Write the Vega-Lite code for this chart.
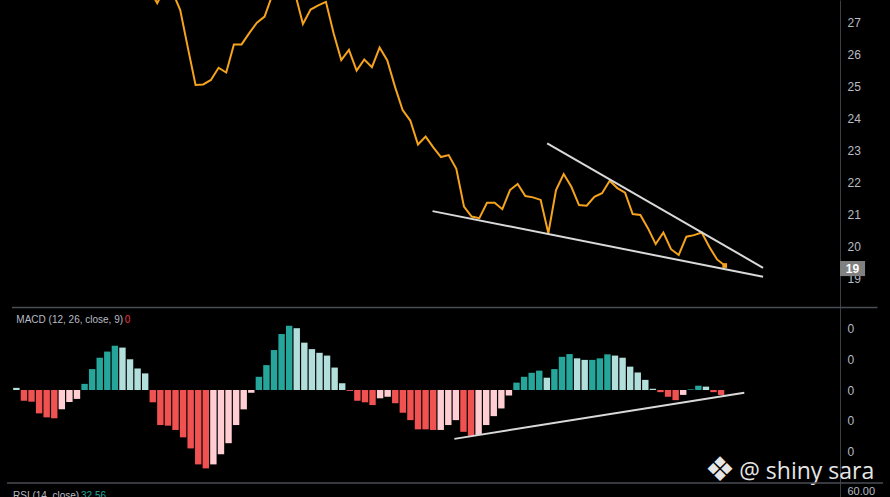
{
  "$schema": "https://vega.github.io/schema/vega-lite/v6.json",
  "background": "#000000",
  "padding": 0,
  "spacing": 0,
  "bounds": "flush",
  "config": {
    "view": {"stroke": null},
    "axis": {"labelFont": "Liberation Sans", "labelFontSize": 12, "labelColor": "#b8bcc4", "domainColor": "#3c3f47", "domainWidth": 1, "ticks": false, "grid": false, "labelPadding": 7, "title": null, "labelOverlap": false}
  },
  "datasets": {
    "price": [
      {"i": 18, "p": 28.0}, {"i": 19, "p": 27.59}, {"i": 20, "p": 28.06}, {"i": 21, "p": 27.94},
      {"i": 22, "p": 27.375}, {"i": 23, "p": 26.19}, {"i": 24, "p": 25.03}, {"i": 25, "p": 25.05},
      {"i": 26, "p": 25.19}, {"i": 27, "p": 25.57}, {"i": 28, "p": 25.42}, {"i": 29, "p": 26.3},
      {"i": 30, "p": 26.3}, {"i": 31, "p": 26.65}, {"i": 32, "p": 26.98}, {"i": 33, "p": 27.17},
      {"i": 34, "p": 27.84}, {"i": 35, "p": 28.31}, {"i": 36, "p": 28.16}, {"i": 37, "p": 27.87},
      {"i": 38, "p": 26.94}, {"i": 39, "p": 27.39}, {"i": 40, "p": 27.52}, {"i": 41, "p": 27.63},
      {"i": 42, "p": 26.65}, {"i": 43, "p": 25.81}, {"i": 44, "p": 26.13}, {"i": 45, "p": 25.48},
      {"i": 46, "p": 25.83}, {"i": 47, "p": 25.59}, {"i": 48, "p": 26.2}, {"i": 49, "p": 25.8},
      {"i": 50, "p": 24.98}, {"i": 51, "p": 24.25}, {"i": 52, "p": 23.92}, {"i": 53, "p": 23.17},
      {"i": 54, "p": 23.42}, {"i": 55, "p": 23.08}, {"i": 56, "p": 22.78}, {"i": 57, "p": 22.84},
      {"i": 58, "p": 22.41}, {"i": 59, "p": 21.23}, {"i": 60, "p": 20.92}, {"i": 61, "p": 20.87},
      {"i": 62, "p": 21.35}, {"i": 63, "p": 21.35}, {"i": 64, "p": 21.15}, {"i": 65, "p": 21.75},
      {"i": 66, "p": 21.94}, {"i": 67, "p": 21.56}, {"i": 68, "p": 21.52}, {"i": 69, "p": 21.44},
      {"i": 70, "p": 20.4}, {"i": 71, "p": 21.75}, {"i": 72, "p": 22.25}, {"i": 73, "p": 21.85},
      {"i": 74, "p": 21.28}, {"i": 75, "p": 21.26}, {"i": 76, "p": 21.54}, {"i": 77, "p": 21.65},
      {"i": 78, "p": 22.04}, {"i": 79, "p": 21.81}, {"i": 80, "p": 21.67}, {"i": 81, "p": 21.0},
      {"i": 82, "p": 20.97}, {"i": 83, "p": 20.55}, {"i": 84, "p": 20.06}, {"i": 85, "p": 20.42},
      {"i": 86, "p": 19.9}, {"i": 87, "p": 19.72}, {"i": 88, "p": 20.29}, {"i": 89, "p": 20.34},
      {"i": 90, "p": 20.42}, {"i": 91, "p": 19.97}, {"i": 92, "p": 19.58}, {"i": 93, "p": 19.39}
    ],
    "trend": [
      {"i1": 54.9, "p1": 21.09, "i2": 98.0, "p2": 19.04},
      {"i1": 69.85, "p1": 23.21, "i2": 98.0, "p2": 19.32}
    ],
    "macd": [
      {"i": 0, "v": 0.007, "phase": "above_weakening"},
      {"i": 1, "v": -0.035, "phase": "below_strengthening"},
      {"i": 2, "v": -0.038, "phase": "below_strengthening"},
      {"i": 3, "v": -0.076, "phase": "below_strengthening"},
      {"i": 4, "v": -0.089, "phase": "below_strengthening"},
      {"i": 5, "v": -0.092, "phase": "below_strengthening"},
      {"i": 6, "v": -0.063, "phase": "below_weakening"},
      {"i": 7, "v": -0.039, "phase": "below_weakening"},
      {"i": 8, "v": -0.029, "phase": "below_weakening"},
      {"i": 9, "v": 0.02, "phase": "above_strengthening"},
      {"i": 10, "v": 0.068, "phase": "above_strengthening"},
      {"i": 11, "v": 0.105, "phase": "above_strengthening"},
      {"i": 12, "v": 0.125, "phase": "above_strengthening"},
      {"i": 13, "v": 0.144, "phase": "above_strengthening"},
      {"i": 14, "v": 0.138, "phase": "above_weakening"},
      {"i": 15, "v": 0.1, "phase": "above_weakening"},
      {"i": 16, "v": 0.07, "phase": "above_weakening"},
      {"i": 17, "v": 0.054, "phase": "above_weakening"},
      {"i": 18, "v": -0.04, "phase": "below_strengthening"},
      {"i": 19, "v": -0.114, "phase": "below_strengthening"},
      {"i": 20, "v": -0.116, "phase": "below_strengthening"},
      {"i": 21, "v": -0.13, "phase": "below_strengthening"},
      {"i": 22, "v": -0.154, "phase": "below_strengthening"},
      {"i": 23, "v": -0.19, "phase": "below_strengthening"},
      {"i": 24, "v": -0.242, "phase": "below_strengthening"},
      {"i": 25, "v": -0.255, "phase": "below_strengthening"},
      {"i": 26, "v": -0.242, "phase": "below_weakening"},
      {"i": 27, "v": -0.209, "phase": "below_weakening"},
      {"i": 28, "v": -0.173, "phase": "below_weakening"},
      {"i": 29, "v": -0.114, "phase": "below_weakening"},
      {"i": 30, "v": -0.063, "phase": "below_weakening"},
      {"i": 31, "v": -0.009, "phase": "below_weakening"},
      {"i": 32, "v": 0.043, "phase": "above_strengthening"},
      {"i": 33, "v": 0.081, "phase": "above_strengthening"},
      {"i": 34, "v": 0.13, "phase": "above_strengthening"},
      {"i": 35, "v": 0.182, "phase": "above_strengthening"},
      {"i": 36, "v": 0.209, "phase": "above_strengthening"},
      {"i": 37, "v": 0.201, "phase": "above_weakening"},
      {"i": 38, "v": 0.154, "phase": "above_weakening"},
      {"i": 39, "v": 0.133, "phase": "above_weakening"},
      {"i": 40, "v": 0.121, "phase": "above_weakening"},
      {"i": 41, "v": 0.112, "phase": "above_weakening"},
      {"i": 42, "v": 0.073, "phase": "above_weakening"},
      {"i": 43, "v": 0.022, "phase": "above_weakening"},
      {"i": 44, "v": -0.003, "phase": "below_strengthening"},
      {"i": 45, "v": -0.035, "phase": "below_strengthening"},
      {"i": 46, "v": -0.04, "phase": "below_strengthening"},
      {"i": 47, "v": -0.049, "phase": "below_strengthening"},
      {"i": 48, "v": -0.027, "phase": "below_weakening"},
      {"i": 49, "v": -0.022, "phase": "below_weakening"},
      {"i": 50, "v": -0.043, "phase": "below_strengthening"},
      {"i": 51, "v": -0.074, "phase": "below_strengthening"},
      {"i": 52, "v": -0.098, "phase": "below_strengthening"},
      {"i": 53, "v": -0.128, "phase": "below_strengthening"},
      {"i": 54, "v": -0.128, "phase": "below_strengthening"},
      {"i": 55, "v": -0.13, "phase": "below_strengthening"},
      {"i": 56, "v": -0.13, "phase": "below_weakening"},
      {"i": 57, "v": -0.114, "phase": "below_weakening"},
      {"i": 58, "v": -0.098, "phase": "below_weakening"},
      {"i": 59, "v": -0.136, "phase": "below_strengthening"},
      {"i": 60, "v": -0.149, "phase": "below_strengthening"},
      {"i": 61, "v": -0.146, "phase": "below_weakening"},
      {"i": 62, "v": -0.114, "phase": "below_weakening"},
      {"i": 63, "v": -0.085, "phase": "below_weakening"},
      {"i": 64, "v": -0.06, "phase": "below_weakening"},
      {"i": 65, "v": -0.018, "phase": "below_weakening"},
      {"i": 66, "v": 0.024, "phase": "above_strengthening"},
      {"i": 67, "v": 0.043, "phase": "above_strengthening"},
      {"i": 68, "v": 0.056, "phase": "above_strengthening"},
      {"i": 69, "v": 0.063, "phase": "above_strengthening"},
      {"i": 70, "v": 0.04, "phase": "above_weakening"},
      {"i": 71, "v": 0.068, "phase": "above_strengthening"},
      {"i": 72, "v": 0.108, "phase": "above_strengthening"},
      {"i": 73, "v": 0.117, "phase": "above_strengthening"},
      {"i": 74, "v": 0.103, "phase": "above_weakening"},
      {"i": 75, "v": 0.098, "phase": "above_weakening"},
      {"i": 76, "v": 0.098, "phase": "above_strengthening"},
      {"i": 77, "v": 0.103, "phase": "above_strengthening"},
      {"i": 78, "v": 0.116, "phase": "above_strengthening"},
      {"i": 79, "v": 0.112, "phase": "above_weakening"},
      {"i": 80, "v": 0.105, "phase": "above_weakening"},
      {"i": 81, "v": 0.076, "phase": "above_weakening"},
      {"i": 82, "v": 0.057, "phase": "above_weakening"},
      {"i": 83, "v": 0.033, "phase": "above_weakening"},
      {"i": 84, "v": 0.004, "phase": "above_weakening"},
      {"i": 85, "v": -0.007, "phase": "below_strengthening"},
      {"i": 86, "v": -0.022, "phase": "below_strengthening"},
      {"i": 87, "v": -0.033, "phase": "below_strengthening"},
      {"i": 88, "v": -0.016, "phase": "below_weakening"},
      {"i": 89, "v": 0.002, "phase": "above_strengthening"},
      {"i": 90, "v": 0.014, "phase": "above_strengthening"},
      {"i": 91, "v": 0.011, "phase": "above_weakening"},
      {"i": 92, "v": -0.007, "phase": "below_strengthening"},
      {"i": 93, "v": -0.016, "phase": "below_strengthening"}
    ],
    "macdtrend": [
      {"i1": 57.8, "v1": -0.159, "i2": 96.06, "v2": -0.0088}
    ]
  },
  "vconcat": [
    {
      "width": 840,
      "height": 307,
      "resolve": {"axis": {"x": "independent", "y": "independent"}},
      "layer": [
        {
          "data": {"name": "price"},
          "mark": {"type": "line", "color": "#f5a31c", "strokeWidth": 2, "clip": true},
          "encoding": {
            "x": {"field": "i", "type": "quantitative", "scale": {"domain": [-1.4995, 108.03], "nice": false, "zero": false}, "axis": null},
            "y": {"field": "p", "type": "quantitative", "scale": {"domain": [18.094, 27.6875], "nice": false, "zero": false},
                  "axis": {"orient": "right", "values": [19, 20, 21, 22, 23, 24, 25, 26, 27], "labelOverlap": false, "minExtent": 50, "maxExtent": 50}}
          }
        },
        {
          "data": {"name": "price"},
          "transform": [{"filter": "datum.i == 93"}],
          "mark": {"type": "point", "shape": "square", "filled": true, "size": 22, "color": "#f5a31c", "opacity": 1},
          "encoding": {
            "x": {"field": "i", "type": "quantitative", "axis": null},
            "y": {"field": "p", "type": "quantitative", "axis": null}
          }
        },
        {
          "data": {"name": "trend"},
          "mark": {"type": "rule", "color": "#d9d9d9", "strokeWidth": 2},
          "encoding": {
            "x": {"field": "i1", "type": "quantitative", "axis": null},
            "x2": {"field": "i2"},
            "y": {"field": "p1", "type": "quantitative", "axis": null},
            "y2": {"field": "p2"}
          }
        },
        {
          "data": {"values": [{"label": "19"}]},
          "mark": {"type": "rect", "color": "#808080"},
          "encoding": {
            "x": {"datum": 108.03, "type": "quantitative", "axis": null},
            "x2": {"datum": 111.3},
            "y": {"datum": 19.531, "type": "quantitative", "axis": null},
            "y2": {"datum": 19.06}
          }
        },
        {
          "data": {"values": [{"label": "19"}]},
          "mark": {"type": "text", "color": "#ffffff", "fontWeight": "bold", "fontSize": 12, "font": "Liberation Sans", "align": "center", "baseline": "middle"},
          "encoding": {
            "x": {"datum": 109.66, "type": "quantitative", "axis": null},
            "y": {"datum": 19.297, "type": "quantitative", "axis": null},
            "text": {"field": "label"}
          }
        }
      ]
    },
    {
      "width": 840,
      "height": 176,
      "resolve": {"axis": {"x": "independent", "y": "independent"}},
      "layer": [
        {
          "data": {"name": "macd"},
          "mark": {"type": "bar", "width": 6.4},
          "encoding": {
            "x": {"field": "i", "type": "quantitative", "scale": {"domain": [-1.4995, 108.03], "nice": false, "zero": false}, "axis": null},
            "y": {"field": "v", "type": "quantitative", "scale": {"domain": [-0.3025, 0.27], "nice": false, "zero": false},
                  "axis": {"orient": "right", "values": [-0.2, -0.1, 0, 0.1, 0.2], "labelExpr": "'0'", "labelOverlap": false, "minExtent": 50, "maxExtent": 50}},
            "color": {"field": "phase", "type": "nominal", "legend": null,
                      "scale": {"domain": ["above_strengthening", "above_weakening", "below_strengthening", "below_weakening"],
                                "range": ["#26a69a", "#b2dfdb", "#f05252", "#ffcdd2"]}}
          }
        },
        {
          "data": {"values": [{}]},
          "mark": {"type": "rule", "color": "#4a4d55", "strokeWidth": 1.5},
          "encoding": {
            "x": {"datum": -0.587, "type": "quantitative", "axis": null},
            "x2": {"datum": 113.64},
            "y": {"datum": 0.2685, "type": "quantitative", "axis": null}
          }
        },
        {
          "data": {"name": "macdtrend"},
          "mark": {"type": "rule", "color": "#d9d9d9", "strokeWidth": 2},
          "encoding": {
            "x": {"field": "i1", "type": "quantitative", "axis": null},
            "x2": {"field": "i2"},
            "y": {"field": "v1", "type": "quantitative", "axis": null},
            "y2": {"field": "v2"}
          }
        },
        {
          "data": {"values": [{}]},
          "mark": {"type": "text", "text": "MACD (12, 26, close, 9)", "color": "#b8bcc4", "fontSize": 10, "font": "Liberation Sans", "align": "left", "baseline": "middle"},
          "encoding": {
            "x": {"datum": 0.0, "type": "quantitative", "axis": null},
            "y": {"datum": 0.228, "type": "quantitative", "axis": null}
          }
        },
        {
          "data": {"values": [{}]},
          "mark": {"type": "text", "text": "0", "color": "#f23645", "fontSize": 10, "font": "Liberation Sans", "align": "left", "baseline": "middle"},
          "encoding": {
            "x": {"datum": 14.3, "type": "quantitative", "axis": null},
            "y": {"datum": 0.228, "type": "quantitative", "axis": null}
          }
        },
        {
          "data": {"values": [{}]},
          "mark": {"type": "text", "text": "❖", "color": "#e6e6e6", "fontSize": 34, "font": "DejaVu Sans", "align": "center", "baseline": "middle"},
          "encoding": {
            "x": {"datum": 92.84, "type": "quantitative", "axis": null},
            "y": {"datum": -0.262, "type": "quantitative", "axis": null}
          }
        },
        {
          "data": {"values": [{}]},
          "mark": {"type": "text", "text": "@ shiny sara", "color": "#e6e6e6", "fontSize": 23, "font": "Open Sans", "align": "left", "baseline": "alphabetic"},
          "encoding": {
            "x": {"datum": 95.39, "type": "quantitative", "axis": null},
            "y": {"datum": -0.2885, "type": "quantitative", "axis": null}
          }
        }
      ]
    },
    {
      "width": 840,
      "height": 14,
      "resolve": {"axis": {"x": "independent", "y": "independent"}},
      "layer": [
        {
          "data": {"values": [{}]},
          "mark": {"type": "rule", "color": "#4a4d55", "strokeWidth": 1.5},
          "encoding": {
            "x": {"datum": -0.587, "type": "quantitative", "scale": {"domain": [-1.4995, 108.03], "nice": false, "zero": false}, "axis": null},
            "x2": {"datum": 113.64},
            "y": {"datum": 64.2, "type": "quantitative", "scale": {"domain": [57.25, 64.25], "nice": false, "zero": false},
                  "axis": {"orient": "right", "values": [60], "format": ".2f", "labelFontSize": 11, "minExtent": 50, "maxExtent": 50}}
          }
        },
        {
          "data": {"values": [{}]},
          "mark": {"type": "text", "text": "RSI (14, close)", "color": "#b8bcc4", "fontSize": 10, "font": "Liberation Sans", "align": "left", "baseline": "top", "clip": true},
          "encoding": {
            "x": {"datum": 0.196, "type": "quantitative", "axis": null},
            "y": {"datum": 60.25, "type": "quantitative", "axis": null}
          }
        },
        {
          "data": {"values": [{}]},
          "mark": {"type": "text", "text": "32.56", "color": "#26a69a", "fontSize": 10, "font": "Liberation Sans", "align": "left", "baseline": "top", "clip": true},
          "encoding": {
            "x": {"datum": 9.06, "type": "quantitative", "axis": null},
            "y": {"datum": 60.25, "type": "quantitative", "axis": null}
          }
        }
      ]
    }
  ]
}
